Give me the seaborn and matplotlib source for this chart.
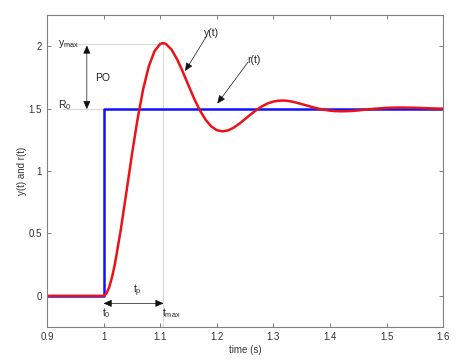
import numpy as np
import pandas as pd
import matplotlib
matplotlib.use("Agg")
import matplotlib.pyplot as plt
import seaborn as sns

# Step input r(t) and the step response y(t)
ref_time = [0.9, 1.0, 1.0, 1.6]
ref_value = [0.0, 0.0, 1.5, 1.5]

resp_time = [0.90, 1.00, 1.005, 1.01, 1.015, 1.02, 1.03, 1.04, 1.05, 1.06, 1.07,
             1.08, 1.09, 1.10, 1.105, 1.11, 1.12, 1.13, 1.14, 1.15, 1.16,
             1.17, 1.18, 1.19, 1.20, 1.21, 1.22, 1.23, 1.24, 1.25, 1.26,
             1.27, 1.28, 1.29, 1.30, 1.31, 1.32, 1.33, 1.34, 1.35, 1.36,
             1.37, 1.38, 1.39, 1.40, 1.41, 1.42, 1.43, 1.44, 1.45, 1.46,
             1.47, 1.48, 1.49, 1.50, 1.51, 1.52, 1.53, 1.54, 1.55, 1.56,
             1.57, 1.58, 1.59, 1.60]
resp_value = [0.000, 0.000, 0.018, 0.069, 0.149, 0.253, 0.516, 0.818, 1.127, 1.413, 1.655,
              1.839, 1.959, 2.017, 2.024, 2.018, 1.973, 1.894, 1.794, 1.686, 1.580,
              1.487, 1.412, 1.358, 1.327, 1.317, 1.325, 1.347, 1.379, 1.416, 1.453,
              1.488, 1.518, 1.541, 1.556, 1.563, 1.564, 1.558, 1.548, 1.536, 1.523,
              1.510, 1.499, 1.490, 1.483, 1.479, 1.478, 1.479, 1.481, 1.485, 1.490,
              1.494, 1.499, 1.502, 1.505, 1.507, 1.508, 1.508, 1.507, 1.506, 1.505,
              1.503, 1.501, 1.500, 1.499]

x_ticks = [0.9, 1.0, 1.1, 1.2, 1.3, 1.4, 1.5, 1.6]
x_tick_labels = ["0.9", "1", "1.1", "1.2", "1.3", "1.4", "1.5", "1.6"]
y_ticks = [0, 0.5, 1, 1.5, 2]
y_tick_labels = ["0", "0.5", "1", "1.5", "2"]

# Key points used by the annotations
T0 = 1.0
T_MAX = 1.105
Y_MAX = 2.02
R0 = 1.5

sns.set_theme(style="white")
plt.rcParams["font.family"] = ["Liberation Sans", "DejaVu Sans"]
plt.rcParams["mathtext.fontset"] = "custom"
plt.rcParams["mathtext.rm"] = "Liberation Sans"
plt.rcParams["mathtext.it"] = "Liberation Sans"

fig = plt.figure(figsize=(4.74, 3.63), dpi=100)
ax = fig.add_axes([0.099, 0.099, 0.836, 0.860])

ref_df = pd.DataFrame({"time": ref_time, "value": ref_value})
resp_df = pd.DataFrame({"time": resp_time, "value": resp_value})

sns.lineplot(data=ref_df, x="time", y="value", ax=ax, color="#1010ff",
             linewidth=1.8, estimator=None, sort=False)
sns.lineplot(data=resp_df, x="time", y="value", ax=ax, color="#ea1218",
             linewidth=1.8, estimator=None, sort=False)

ax.set_xlim(0.9, 1.6)
ax.set_ylim(-0.25, 2.25)
ax.set_xticks(x_ticks)
ax.set_xticklabels(x_tick_labels)
ax.set_yticks(y_ticks)
ax.set_yticklabels(y_tick_labels)
ax.tick_params(direction="in", length=3, width=0.6, colors="#666666",
               labelcolor="#333333", labelsize=7, top=True, right=True,
               bottom=True, left=True)
for sp in ax.spines.values():
    sp.set_color("#808080")
    sp.set_linewidth(0.8)
ax.set_xlabel("time (s)", fontsize=7, color="#333333", labelpad=2)
ax.set_ylabel("y(t) and r(t)", fontsize=7, color="#333333", labelpad=1)

# guide lines
guide = dict(color="#d8d8d8", linewidth=0.7, zorder=0)
ax.plot([0.928, T_MAX], [Y_MAX, Y_MAX], **guide)
ax.plot([T_MAX, T_MAX], [-0.25, Y_MAX], **guide)
ax.plot([0.928, T0], [R0, R0], **guide)

txt = dict(fontsize=7.5, color="#222222")
ax.text(0.919, 2.0, r"y$_{\mathregular{max}}$", va="baseline", **txt)
ax.text(0.919, 1.5, r"R$_{\mathregular{0}}$", va="baseline", **txt)
ax.text(0.9855, 1.745, "PO", va="center", **txt)
ax.text(1.052, 0.02, r"t$_{\mathregular{p}}$", va="baseline", **txt)
ax.text(0.998, -0.16, r"t$_{\mathregular{0}}$", va="baseline", **txt)
ax.text(1.103, -0.16, r"t$_{\mathregular{max}}$", va="baseline", **txt)
ax.text(1.178, 2.08, "y(t)", va="baseline", **txt)
ax.text(1.253, 1.865, "r(t)", va="baseline", **txt)

both = dict(arrowstyle="<|-|>,head_length=0.45,head_width=0.2",
            color="#111111", lw=0.5, mutation_scale=11,
            shrinkA=0, shrinkB=0)
ax.annotate("", xy=(0.9705, 2.005), xytext=(0.9705, 1.495), arrowprops=both)
ax.annotate("", xy=(1.0, -0.06), xytext=(1.106, -0.06), arrowprops=both)

one = dict(arrowstyle="-|>,head_length=0.45,head_width=0.2",
           color="#111111", lw=0.5, mutation_scale=11,
           shrinkA=0, shrinkB=0)
ax.annotate("", xy=(1.144, 1.80), xytext=(1.182, 2.08), arrowprops=one)
ax.annotate("", xy=(1.201, 1.54), xytext=(1.255, 1.87), arrowprops=one)

fig.savefig("out.png", dpi=100)
